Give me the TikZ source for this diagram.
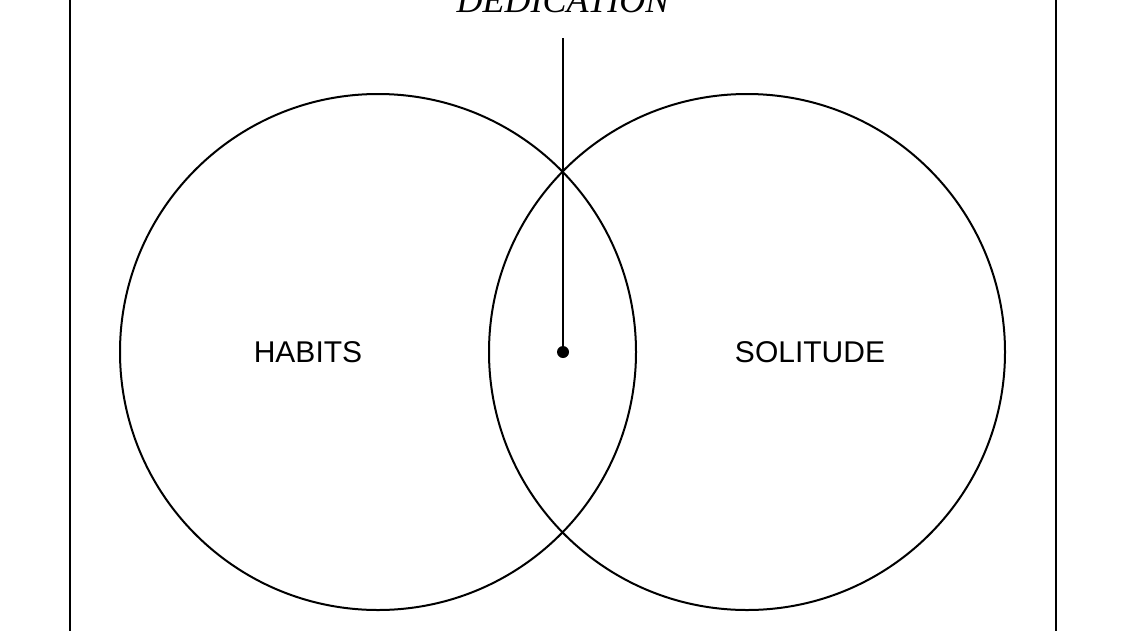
\documentclass[tikz,border=0pt]{standalone}
\usepackage{fontspec}
\setmainfont{Liberation Serif}
\setsansfont{Liberation Sans}
\begin{document}
\begin{tikzpicture}[x=1pt,y=-1pt,
  ln/.style={line width=2pt,black},
  lbl/.style={font=\sffamily\fontsize{30}{34}\selectfont}]
\useasboundingbox (0,0) rectangle (1125,630);
\draw[ln] (70,-5) -- (70,635);
\draw[ln] (1056,-5) -- (1056,635);
\node[circle,draw,ln,minimum size=516pt,inner sep=0pt] (L) at (378,352) {};
\node[circle,draw,ln,minimum size=516pt,inner sep=0pt] (R) at (747,352) {};
\node[lbl] (h) at (308,352) {HABITS};
\node[lbl] (s) at (810,352) {SOLITUDE};
\node[font=\itshape\fontsize{36}{40}\selectfont,anchor=base] (d) at (563,12) {DEDICATION};
\coordinate (top) at (563,38);
\node[circle,fill=black,inner sep=0pt,minimum size=12pt] (dot) at (563,352) {};
\draw[ln] (top) -- (dot.center);
\end{tikzpicture}
\end{document}
